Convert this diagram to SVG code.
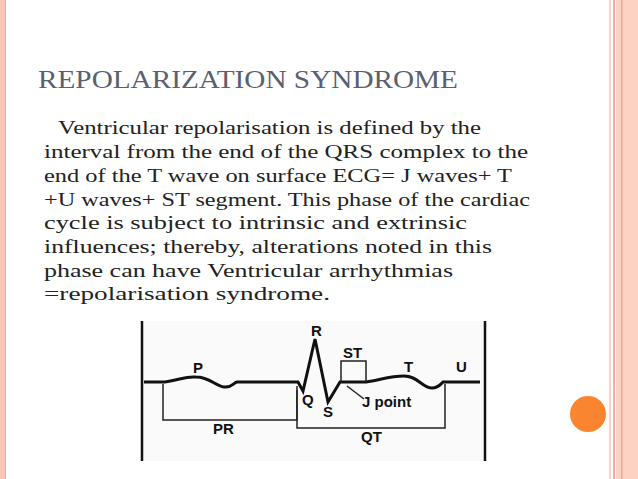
<svg xmlns="http://www.w3.org/2000/svg" width="638" height="479" viewBox="0 0 638 479">
<style>
.b{font-family:"Liberation Serif",serif;font-size:19px;fill:#222}
.l{font-family:"Liberation Sans",Arial,sans-serif;font-weight:bold;font-size:15px;fill:#111}
.w{fill:none;stroke:#111;stroke-width:3}
.k{fill:none;stroke:#222;stroke-width:1.5}
</style>
<rect width="638" height="479" fill="#fff"/>
<rect x="0" y="0" width="5" height="479" fill="#f9c7b6"/>
<line x1="5.5" y1="0" x2="5.5" y2="479" stroke="#f4a88e" stroke-width="1"/>
<rect x="609" y="0" width="2" height="479" fill="#fbd3c5"/>
<rect x="613" y="0" width="2" height="479" fill="#f6b09a"/>
<rect x="616" y="0" width="22" height="479" fill="#fcd2c3"/>
<rect x="621" y="0" width="1.5" height="479" fill="#f4a88e"/>
<circle cx="588" cy="414" r="18" fill="#fb8431"/>
<text x="38" y="88" font-family="Liberation Serif,serif" font-size="26" fill="#5a6070" textLength="420" lengthAdjust="spacingAndGlyphs">REPOLARIZATION SYNDROME</text>
<g class="b">
<text x="58" y="134" textLength="423" lengthAdjust="spacingAndGlyphs">Ventricular repolarisation is defined by the</text>
<text x="44" y="158" textLength="484" lengthAdjust="spacingAndGlyphs">interval from the end of the QRS complex to the</text>
<text x="44" y="182" textLength="468" lengthAdjust="spacingAndGlyphs">end of the T wave on surface ECG= J waves+ T</text>
<text x="44" y="206" textLength="486" lengthAdjust="spacingAndGlyphs">+U waves+ ST segment. This phase of the cardiac</text>
<text x="44" y="229" textLength="423" lengthAdjust="spacingAndGlyphs">cycle is subject to intrinsic and extrinsic</text>
<text x="44" y="253" textLength="448" lengthAdjust="spacingAndGlyphs">influences; thereby, alterations noted in this</text>
<text x="44" y="277" textLength="409" lengthAdjust="spacingAndGlyphs">phase can have Ventricular arrhythmias</text>
<text x="44" y="300" textLength="286" lengthAdjust="spacingAndGlyphs">=repolarisation syndrome.</text>
</g>
<g id="ecg">
<rect x="143" y="321" width="341" height="140" fill="#fafafa"/>
<line x1="142" y1="321" x2="142" y2="461" stroke="#111" stroke-width="2.5"/>
<line x1="485" y1="321" x2="485" y2="461" stroke="#111" stroke-width="2.5"/>
<path class="w" d="M144 382 L165 382 C180 380 185 376 196 377 C210 377 215 386 224 387 C232 388 233 383 237 382 L298 382 L303 391 L315 339 L328 402 L340 382 L366 382 C380 380 390 376 404 376 C418 376 422 388 432 388 C438 388 440 385 443 382 L480 382"/>
<path class="k" d="M341 382 V361 H366 V382"/>
<path class="k" d="M163 384 V420 H297 V386"/>
<path class="k" d="M297 390 V428 H445 V384"/>
<line class="k" x1="347" y1="386" x2="364" y2="399"/>
<text class="l" x="193" y="373">P</text>
<text class="l" x="311" y="336">R</text>
<text class="l" x="343" y="358">ST</text>
<text class="l" x="404" y="372">T</text>
<text class="l" x="456" y="372">U</text>
<text class="l" x="302" y="405">Q</text>
<text class="l" x="323" y="417">S</text>
<text class="l" x="362" y="407">J point</text>
<text class="l" x="213" y="434">PR</text>
<text class="l" x="361" y="442">QT</text>
</g>
</svg>
